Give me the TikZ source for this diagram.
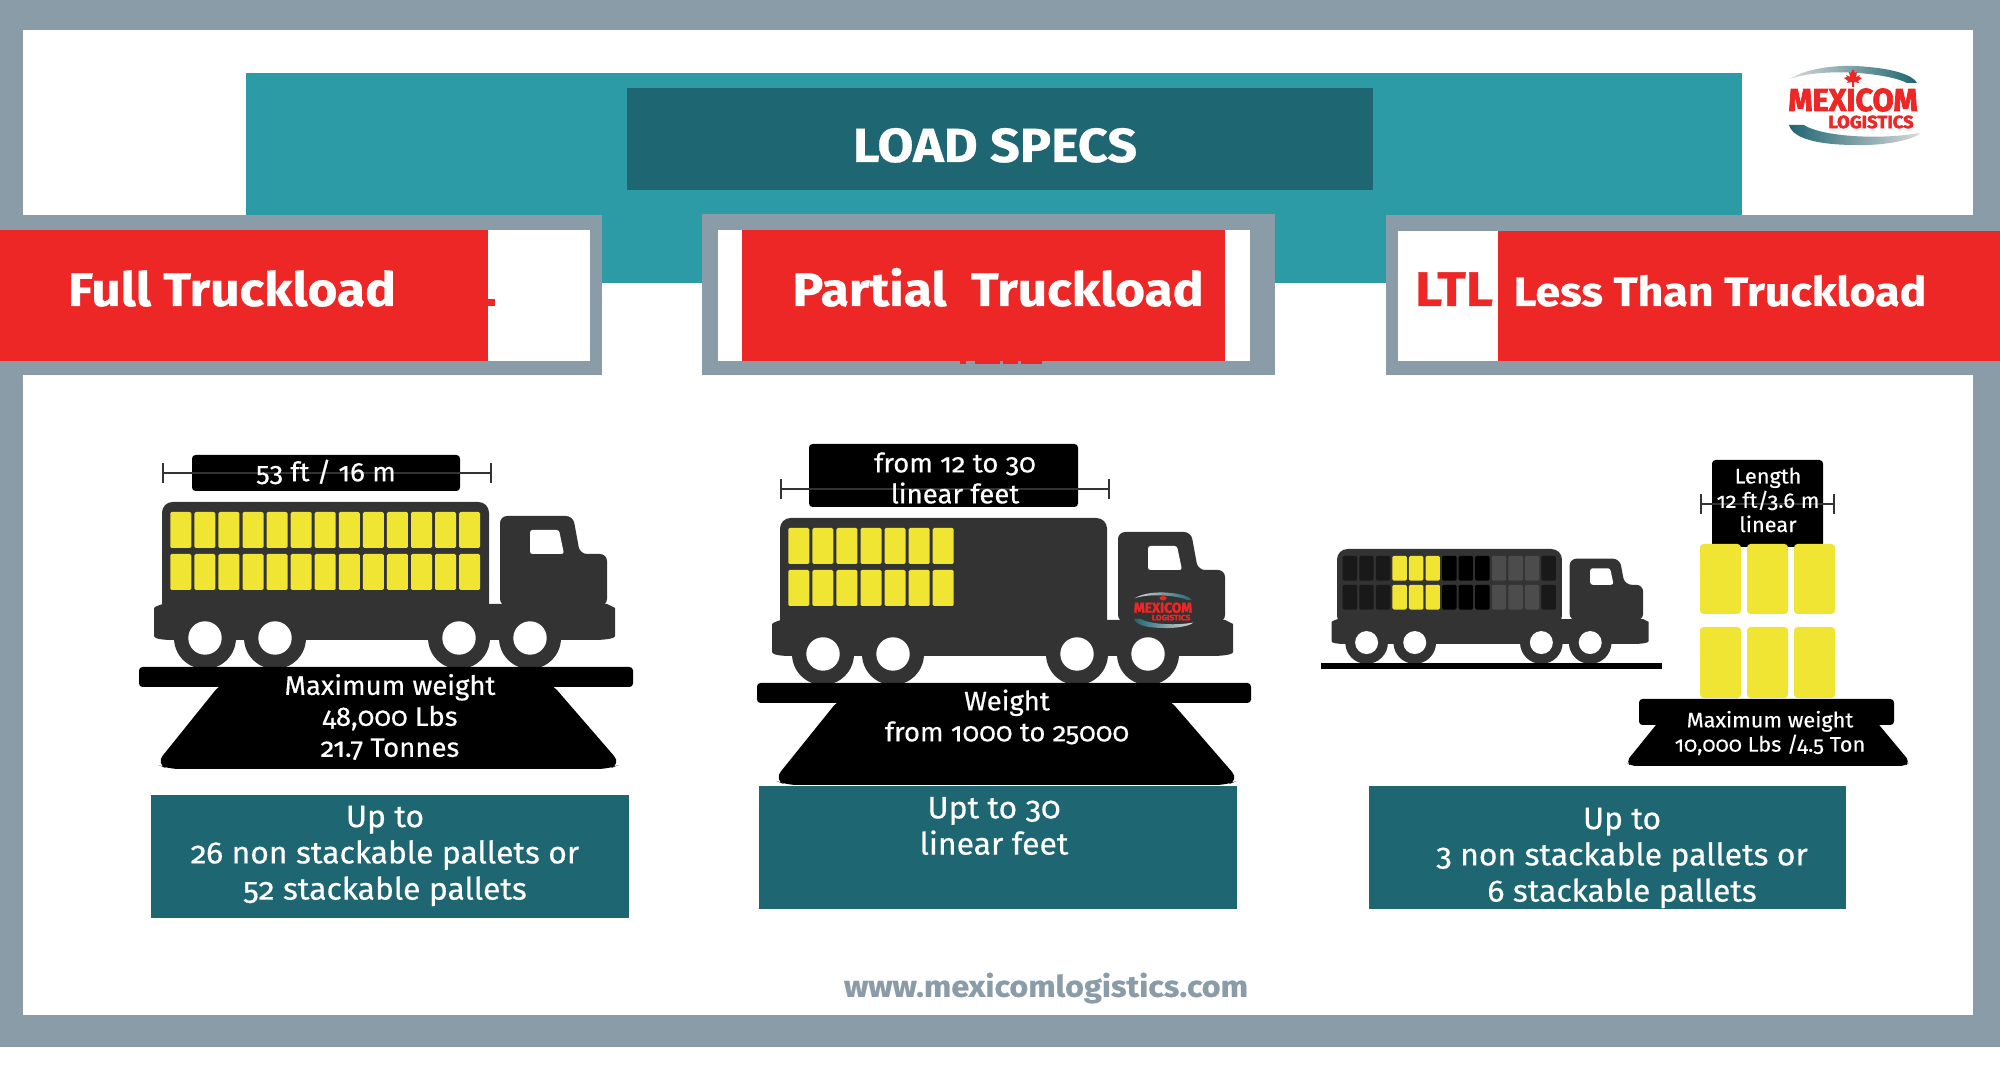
\documentclass[tikz,border=0pt]{standalone}
\usepackage{fontspec}
\usetikzlibrary{arrows.meta}
\setmainfont{Fira Sans}[Numbers=OldStyle,FakeBold=0.5,FakeStretch=1.03,BoldFeatures={FakeBold=0.6,FakeStretch=1.09}]
\newfontfamily\logofont{Fira Sans}[FakeBold=2.5]

\definecolor{framegray}{HTML}{8A9CA8}
\definecolor{headteal}{HTML}{2C9BA5}
\definecolor{darkteal}{HTML}{1E6672}
\definecolor{loadred}{HTML}{ED2626}
\definecolor{palletyellow}{HTML}{F0E532}
\definecolor{truckgray}{HTML}{333333}

\tikzset{
  weightlabel/.style={text=white,align=center,font=\fontsize{7.6}{8.8}\selectfont},
  smalllabel/.style={text=white,align=center,font=\fontsize{6}{6.9}\selectfont},
  boxlabel/.style={text=white,align=center,font=\fontsize{8.8}{10.3}\selectfont},
  headlabel/.style={text=white,anchor=base,font=\fontsize{13.4}{14}\selectfont\bfseries},
  dimline/.style={draw=truckgray,line width=0.6pt,{Bar[width=5.7pt]}-{Bar[width=5.7pt]}},
  pics/mexicomlogo/.style={code={
    \shade[left color=black!15,right color=darkteal] (-63,-26) .. controls (-45,-38) and (-10,-41) .. (15,-38) .. controls (40,-36) and (60,-30) .. (64,-22) -- (54,-22) .. controls (35,-32) and (-30,-38) .. cycle;
    \shade[left color=darkteal,right color=black!15] (-64,20) -- (-49,20) .. controls (-35,30) and (20,36) .. (67,28) .. controls (60,36) and (25,41) .. (3,40) .. controls (-30,40) and (-60,35) .. cycle;
    \fill[loadred] (0,-36) -- (2,-32) -- (4,-33) -- (3,-28) -- (7,-30) -- (6,-28) -- (9,-27) -- (5,-24) -- (6,-22) -- (1,-23) -- (1,-18) -- (-1,-18) -- (-1,-23) -- (-6,-22) -- (-5,-24) -- (-9,-27) -- (-6,-28) -- (-7,-30) -- (-3,-28) -- (-4,-33) -- (-2,-32) -- (-0,-36) -- cycle;
    \node[transform shape,text=loadred,inner sep=0pt,font=\logofont\bfseries\fontsize{9}{9}\selectfont,xscale=0.97] (-logoname) at (0,-5) {MEXICOM};
    \node[transform shape,text=loadred,inner sep=0pt,font=\logofont\bfseries\fontsize{5}{5}\selectfont,xscale=1.05] (-logosub) at (18,17) {LOGISTICS};
  }}
}

% one truck, top left corner of the box at (0,0)
\newcommand{\truckshape}{
  \fill[truckgray,rounded corners=3pt] (0,0) rectangle (327,112);
  \fill[truckgray] (-8,106) .. controls (-6,104) and (-2,103) .. (1,102) -- (445,102) -- (453,106) -- (453,134) .. controls (453,137) and (440,138) .. (432,138) -- (11,138) .. controls (2,138) and (-8,137) .. (-8,134) -- cycle;
  \fill[truckgray,rounded corners=2pt] (338,104) -- (338,14) -- (411,14) -- (418,52) -- (445,52) -- (445,104) -- cycle;
  \fill[white,rounded corners=0.7pt] (368,28) -- (397,28) -- (402,52) -- (368,52) -- cycle;
  \foreach \x in {43,113,297,368} {
    \fill[truckgray] (\x,136) circle (31);
    \fill[white] (\x,136) circle (16.7);
  }
}
\newcommand{\truckcells}[3]{
  \foreach \c in {#1,...,#2} {
    \fill[#3,rounded corners=0.4pt] ({8.3+24.07*\c},10) rectangle +(21,36);
    \fill[#3,rounded corners=0.4pt] ({8.3+24.07*\c},52) rectangle +(21,36);
  }
}
\newcommand{\scaleplatform}{
  \fill[black,rounded corners=1pt] (0,0) rectangle (494,20);
  \fill[black,rounded corners=3pt] (83,15) -- (411,15) -- (482,97) -- (470,102) -- (29,102) -- (17,97) -- cycle;
}

\begin{document}
\begin{tikzpicture}[x=0.01cm,y=-0.01cm]
  \useasboundingbox (0,0) rectangle (2000,1083);
  \fill[white] (0,0) rectangle (2000,1083);

  % frame and header
  \fill[framegray] (0,0) rectangle (2000,1047);
  \fill[white] (23,30) rectangle (1973,1015);
  \fill[headteal] (246,73) rectangle (1742,283);
  \fill[darkteal] (627,88) rectangle (1373,190);
  \node[headlabel,font=\fontsize{13.6}{15}\selectfont\bfseries] (title) at (995,162) {LOAD SPECS};
  \pic (logo) at (1853,105) {mexicomlogo};

  % the three tabs
  \fill[framegray] (0,215) rectangle (602,375);
  \fill[white] (0,230) rectangle (590,361);
  \fill[loadred] (0,230) rectangle (488,361);
  \fill[loadred] (488,299) rectangle (495,306);
  \node[headlabel] (fulltab) at (232,306) {Full Truckload};

  \fill[framegray] (702,214) rectangle (1275,375);
  \fill[white] (718,230) rectangle (1250,361);
  \fill[loadred] (742,230) rectangle (1225,361);
  \fill[loadred] (960,361) rectangle (966,364);
  \fill[loadred] (975,361) rectangle (1000,364);
  \fill[loadred] (1003,361) rectangle (1018,364);
  \fill[loadred] (1021,361) rectangle (1042,364);
  \node[headlabel] (partialtab) at (998,306) {Partial\ \ Truckload};

  \fill[framegray] (1386,215) rectangle (2000,375);
  \fill[white] (1398,231) rectangle (2000,361);
  \fill[loadred] (1498,231) rectangle (2000,361);
  \node[headlabel,text=loadred,font=\fontsize{13.8}{14}\selectfont\bfseries] (ltltag) at (1454,306) {LTL};
  \node[headlabel,font=\fontsize{11.65}{12}\selectfont\bfseries] (ltltab) at (1720,306) {Less Than Truckload};

  % full truckload
  \fill[black,rounded corners=1pt] (192,455) rectangle (460,491);
  \coordinate (fullL) at (162,473);
  \coordinate (fullR) at (492,473);
  \draw[dimline] (fullL) -- (fullR);
  \node[weightlabel] (fulllength) at (326,472) {53 ft / 16 m};
  \begin{scope}[shift={(162,502)}]
    \truckshape
    \truckcells{0}{12}{palletyellow}
  \end{scope}
  \begin{scope}[shift={(139,667)}]
    \scaleplatform
  \end{scope}
  \node[weightlabel] (fullweight) at (390,717) {Maximum weight\\48,000 Lbs\\21.7 Tonnes};
  \fill[darkteal] (151,795) rectangle (629,918);
  \node[boxlabel] (fullpallets) at (385,856) {Up to\\26 non stackable pallets or\\52 stackable pallets};

  % partial truckload
  \fill[black,rounded corners=1pt] (809,444) rectangle (1078,507);
  \coordinate (partialL) at (780,489);
  \coordinate (partialR) at (1110,489);
  \draw[dimline] (partialL) -- (partialR);
  \node[weightlabel] (partiallength) at (955,478) {from 12 to 30\\linear feet};
  \begin{scope}[shift={(780,518)}]
    \truckshape
    \truckcells{0}{6}{palletyellow}
  \end{scope}
  \pic[scale=0.45] (cablogo) at (1163,610) {mexicomlogo};
  \begin{scope}[shift={(757,683)}]
    \scaleplatform
  \end{scope}
  \node[weightlabel] (partialweight) at (1007,717) {Weight\\from 1000 to 25000};
  \fill[darkteal] (759,786) rectangle (1237,909);
  \node[boxlabel] (partialfeet) at (994,826) {Upt to 30\\linear feet};

  % less than truckload
  \begin{scope}[shift={(1337,549)},scale=0.688]
    \truckshape
    \truckcells{0}{2}{black!90}
    \truckcells{3}{5}{palletyellow}
    \truckcells{6}{8}{black}
    \truckcells{9}{11}{black!70}
    \truckcells{12}{12}{black!90}
  \end{scope}
  \fill[black] (1321,663) rectangle (1662,669);

  \fill[black,rounded corners=1pt] (1712,460) rectangle (1823,547);
  \foreach \x in {1700,1747,1794} {
    \fill[palletyellow,rounded corners=1pt] (\x,544) rectangle +(41,70);
    \fill[palletyellow,rounded corners=1pt] (\x,627) rectangle +(41,71);
  }
  \coordinate (ltlL) at (1700,504);
  \coordinate (ltlR) at (1835,504);
  \draw[dimline] (ltlL) -- (ltlR);
  \node[smalllabel] (ltllength) at (1768,500) {Length\\12 ft/3.6 m\\linear};
  \fill[black,rounded corners=1pt] (1639,699) rectangle (1894,725);
  \fill[black,rounded corners=1.5pt] (1660,720) -- (1875,720) -- (1910,762) -- (1905,766) -- (1631,766) -- (1626,762) -- cycle;
  \node[smalllabel] (ltlweight) at (1770,733) {Maximum weight\\10,000 Lbs /4.5 Ton};
  \fill[darkteal] (1369,786) rectangle (1846,909);
  \node[boxlabel] (ltlpallets) at (1622,858) {Up to\\3 non stackable pallets or\\6 stackable pallets};

  \node[text=framegray,font=\fontsize{8.45}{9}\selectfont\bfseries] (weblink) at (1046,988) {www.mexicomlogistics.com};
\end{tikzpicture}
\end{document}
